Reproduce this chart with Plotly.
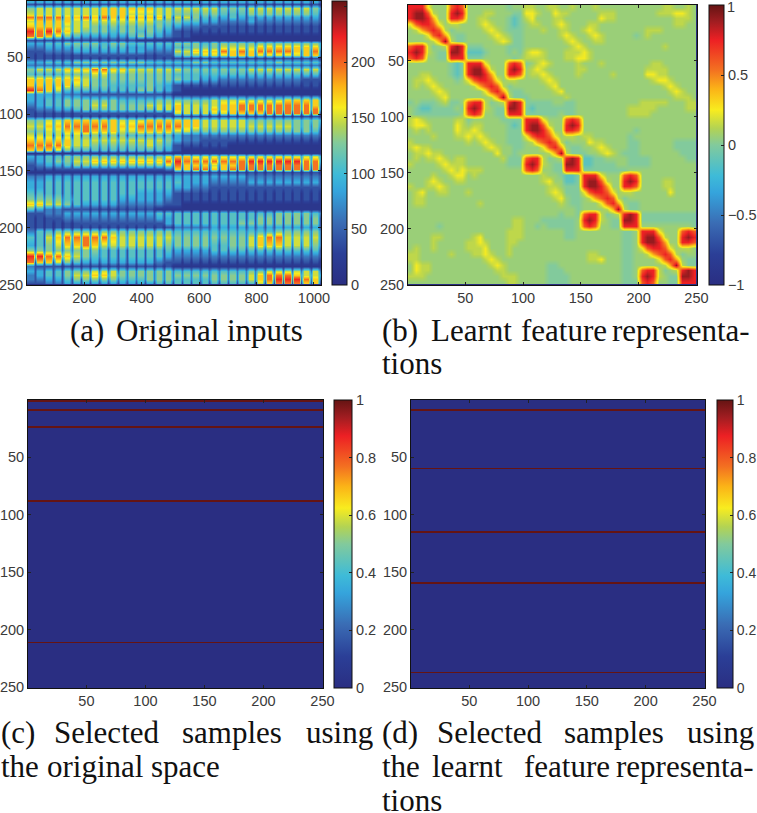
import numpy as np
import plotly.graph_objects as go

W, H = 757, 813

# ---- Panel (a): rows of alternating peak / valley readings, 32 blocks across
a_levels = [15, 40, 65, 90, 110, 130, 150, 170, 195, 220, 245]
a_row_edges = [0,2,4,9,14,16,20,25,29,33,36,39,43,46,50,52,56,58,63,67,72,77,80,85,90,94,98,100,103,108,113,117,120,125,130,134,135,139,143,147,150,152,157,162,167,172,177,182,185,189,194,198,201,205,212,218,222,228,232,236,240,244,247,250]
a_rows = [
"3131313131313131 3131313131313131 3131313131313131 3131313131313131",
"1010101010101010 1010101010101010 1010101010101010 1010101010101010",
"5362636363636363 7373737373736363 6363636362525251 6262626262626252",
"6363636363636363 7373736363636363 5352525252414141 5252525252525241",
"8281828172718171 8171717171717161 6161514141314131 3131313131313131",
"6372737373636363 6363636363635352 5242413131212121 3121212121212121",
"7474747363636352 5252525252525241 3121211111101010 1010101010101010",
"9484948473635352 5242525241524131 1010101010101010 1010101010101010",
"8383726151413131 3131314151413121 1010000000000000 0000000000000000",
"1010101010101010 1010101000000000 0000000000000000 0000000000000000",
"3131414152525252 4252524241414141 5252524252535353 5253535353535353",
"2121313131414141 4141413131313131 4142525252636363 6373737373737373",
"1111212121313131 3131313131212121 6262727272827282 7282828282727282",
"1010101010101111 1111111110101111 4152526262627272 7262626262627272",
"1010101010101010 1010101010101010 1010101010101010 1010101010101010",
"3131414141525252 5252525252424242 4242525242424242 4242425242424242",
"2121212121212121 2121212121212121 2121212121212121 2121212121212121",
"5262626373737383 8373736363626262 6252525252525252 6262626262626262",
"4141414252525262 6252525252525252 4242424242414141 4141414141414141",
"7474747373736252 5252525252525252 5242413131212121 2121212121211111",
"7272727171626152 5242424242524231 1010101010101010 1010101010101010",
"9181716141414141 4141414151514131 1000000000000000 0000000000000000",
"3132313121211111 1111111111111010 0000000000000000 0000000000000000",
"3131414152525252 5252424242425252 5353535363636363 6363636373737373",
"2131414152525262 6252525252626262 7262636363737383 8383838383838373",
"1121213131415152 5252525251516161 7262626373737383 8383838383838383",
"1010101010111111 1111111111111111 6161616161617171 7171818181818181",
"1010101010101010 1010101010101010 1010101010101010 1010101010101010",
"5353636373737373 7373636363737373 7373736363636363 5353535353535353",
"6363737383838383 8373737383838383 8373736363636363 6363636363535252",
"5252636373738373 7373636373737373 6262525252525252 5252525252525241",
"6161616161615151 5151514141414141 3121212121212121 2121212121212121",
"7373737373636363 6363636262626252 3121211111111010 1010101010101010",
"8484848473636352 5252525252625241 1010101010100000 0000000000000000",
"7271716151414141 4141414141414131 1000000000000000 0000000000000000",
"0000000000000000 0000000000000000 0000000000000000 0000000000000000",
"3131414152525252 5252525252525363 7373636363636363 6363636363636363",
"2131415252636373 7373737373737383 9383838383838383 9393939393938383",
"1121313141515252 5252525252525262 8272727262727282 8282828282828282",
"1010101111111111 1111111111111121 7171818171718181 8181818181818181",
"0000000000000000 0000000000000000 1010101010101010 1010101010101010",
"2121313131313131 3131313131313131 3131313131313131 2121212121212121",
"3131414141414141 4141414141414141 4131313121212121 3131313131313131",
"3131414141414141 4141414141414141 3131212111111111 1111111111111111",
"4141414141414141 4141414131313131 1010101010101010 1010101010101010",
"5252525242414141 4141313131313121 1010101010101010 1010101010101010",
"7372626251413131 3131212121212111 1000000000000000 0000000000000000",
"4131212111111010 1010101010100000 0000000000000000 0000000000000000",
"1111212131313131 3131313131314141 4141414141414141 4141415252525242",
"1010111121212121 2121212121213131 4141414141414141 4151515151515151",
"1010101010111111 1111111111111131 4141414141414151 5151515151515151",
"1010101010101010 1010101010101010 2121212131313131 3131313131313131",
"2141415252525252 5252525252525252 4242424242424242 4242425252525252",
"4141627383838383 8373636363636363 5252525252525252 6273838363636262",
"3141526272738373 6363636262626252 5252525241425252 6273737362626252",
"5252525252525252 4141414141414141 3131313141414141 4141414141414141",
"9494848473625242 4141414141414131 2121212121212121 2121212121212121",
"8171716151413131 3131313131312111 1010101010101010 1010101010101010",
"2111111010101010 1010101010101010 0000000000000000 0000000000000000",
"3131414152525262 6262525252525252 4242424242424242 5252626262626262",
"2131414152636373 7363525252525252 5252525252525252 6272838383736363",
"2121313141515252 5252424242525252 4242424252525252 6272829292928272",
"1111212131313131 3131313131314141 4141414141414141 4161718181817171",
]

# ---- Panel (b): upper triangle of the similarity matrix, 5-sample cells
b_levels = [-0.3, -0.12, 0.0, 0.06, 0.14, 0.24, 0.42, 0.6, 0.75, 0.9]
b_upper = [
"8885333787 3333333233 4433443343 3343333333 3333443343",
"997433898 3334433322 5543354433 3334443333 3334445543",
"98633887 3344333212 4533344333 3335443333 3333334443",
"8753443 3345433212 3443345433 3443333333 3333334433",
"874233 3334543222 3334334433 4543333333 3444333333",
"86322 3333454322 3333334543 3454333332 3433333333",
"9422 3333345422 3333333454 3344333333 3333333333",
"898 2223333222 3333333345 4333333333 3333433333",
"98 1112333232 4554333444 5433333333 3333333333",
"8 2223333323 4444333445 5433333333 3333333333",
"8885333787 2345433334 3334333333 3344333333",
"997433898 3454333334 4333333333 3444433333",
"98633887 3445433334 3333343333 3554433333",
"8753443 3334543333 3333333333 3345543333",
"874233 3333453333 3333333333 3333454333",
"86322 3333345333 3333333333 3333345433",
"9422 2333333433 3333333333 3333334443",
"898 2222233223 3333333333 4444433344",
"98 2122222223 3333333344 4443333344",
"8 2222223223 3333333344 4433333333",
"8885333787 3333333333 3333333333",
"997433898 3333333333 3333333333",
"98633887 3333333332 3333333333",
"8753443 4433333323 3333333333",
"874233 3544333322 3333332222",
"86322 3345433322 3333332222",
"9422 2334543222 3333333222",
"898 1122333322 2233333322",
"98 1122223322 2233333333",
"8 2222222233 3333333333",
"8885333787 3333333333",
"997433898 3333443333",
"98633887 3333443333",
"8753443 3333353333",
"874233 3333333333",
"86322 3333333333",
"9422 3333333333",
"898 2222222222",
"98 2222222222",
"8 3333333332",
"8885333787",
"997433898",
"98633887",
"8753443",
"874233",
"86322",
"9422",
"898",
"98",
"8",
]

# ---- Panels (c), (d): selected sample rows
c_selected = [1, 9, 24, 88, 211]
d_selected = [9, 60, 115, 159, 237]

a_ticks_x = [200, 400, 600, 800, 1000]
sq_ticks = [50, 100, 150, 200, 250]
a_bar_ticks = [0, 50, 100, 150, 200, 250]
b_bar_ticks = [-1, -0.5, 0, 0.5]
c_bar_ticks = [0, 0.2, 0.4, 0.6, 0.8, 1]

jet = [[0, "#2a2e82"], [.11, "#2b3f97"], [.22, "#3a6cb4"], [.33, "#35a4dc"], [.39, "#3ebbd8"],
       [.5, "#82ca9c"], [.56, "#b3d353"], [.625, "#f8ec1f"], [.7, "#fbb317"], [.77, "#f36f21"],
       [.875, "#ed2024"], [.94, "#a11d21"], [1, "#651413"]]

def dig(ch):
    return 10 if ch == "a" else int(ch)
a_read = np.array([[a_levels[dig(c)] for c in r.replace(" ", "")] for r in a_rows], float)
# each block drawn as a plateau of three peak samples and one valley sample
z_a = np.zeros((a_read.shape[0], a_read.shape[1] * 2))
for b in range(a_read.shape[1] // 2):
    z_a[:, 4 * b:4 * b + 3] = a_read[:, [2 * b]]
    z_a[:, 4 * b + 3] = a_read[:, 2 * b + 1]
a_x = [4 + 8 * k for k in range(z_a.shape[1])]
a_y = [(p + q) / 2 for p, q in zip(a_row_edges[:-1], a_row_edges[1:])]

z_b = np.zeros((50, 50))
for i, r in enumerate(b_upper):
    for k, c in enumerate(r.replace(" ", "")):
        z_b[i, i + k] = z_b[i + k, i] = b_levels[int(c)]
b_xy = [2.5 + 5 * i for i in range(50)]

def selection(rows):
    edges, z = [0.5], []
    for r in rows:
        edges += [max(r - 0.8, 0.6), r + 0.8]
        z += [[0], [1]]
    edges.append(250.5)
    z.append([0])
    return z, edges

fig = go.Figure()
FONT = dict(family="Liberation Sans, Arial, sans-serif", size=14.5, color="#3a3a3a")
FONT_SMALL = dict(FONT, size=14)

panels = [
 dict(box=(27, 321, 1, 285), bar=(332, 347), xr=[0.5, 1024.5], xt=a_ticks_x),
 dict(box=(408, 697, 5, 285), bar=(709, 724), xr=[0.5, 250.5], xt=sq_ticks),
 dict(box=(28, 323, 400, 688), bar=(334, 352), xr=[0.5, 250.5], xt=sq_ticks),
 dict(box=(411, 705, 400, 688), bar=(717, 733), xr=[0.5, 250.5], xt=sq_ticks),
]

def cb(p, ticks, font=FONT):
    x0, x1, y0, y1 = p["box"]
    bx0, bx1 = p["bar"]
    return dict(x=bx0 / W, xanchor="left", xpad=0, ypad=0,
                y=1 - y1 / H, yanchor="bottom", len=(y1 - y0) / H, lenmode="fraction",
                thickness=bx1 - bx0, thicknessmode="pixels",
                tickvals=ticks, ticks="inside", ticklen=3, tickcolor="#222",
                outlinewidth=1, outlinecolor="#111", tickfont=font)

fig.add_trace(go.Heatmap(z=z_a, x=a_x, y=a_y, zmin=0, zmax=255, colorscale=jet, zsmooth="best",
                         colorbar=cb(panels[0], a_bar_ticks), xaxis="x", yaxis="y"))
fig.add_trace(go.Heatmap(z=z_b, x=b_xy, y=b_xy, zmin=-1, zmax=1, colorscale=jet, zsmooth="best",
                         colorbar=cb(panels[1], b_bar_ticks), xaxis="x2", yaxis="y2"))
zc, yc = selection(c_selected)
zd, yd = selection(d_selected)
fig.add_trace(go.Heatmap(z=zc, x=[0.5, 250.5], y=yc, zmin=0, zmax=1, colorscale=jet,
                         colorbar=cb(panels[2], c_bar_ticks), xaxis="x3", yaxis="y3"))
fig.add_trace(go.Heatmap(z=zd, x=[0.5, 250.5], y=yd, zmin=0, zmax=1, colorscale=jet,
                         colorbar=cb(panels[3], c_bar_ticks, FONT_SMALL), xaxis="x4", yaxis="y4"))

layout = dict(width=W, height=H, margin=dict(l=0, r=0, t=0, b=0, autoexpand=False), paper_bgcolor="white",
              plot_bgcolor="#2a2e82", showlegend=False, font=FONT)
for i, p in enumerate(panels):
    s = "" if i == 0 else str(i + 1)
    x0, x1, y0, y1 = p["box"]
    common = dict(showgrid=False, zeroline=False, showline=True, linecolor="#111", linewidth=1,
                  mirror="ticks", ticks="inside", ticklen=3, tickcolor="#222", tickfont=FONT)
    layout["xaxis" + s] = dict(domain=[x0 / W, x1 / W], range=p["xr"], tickvals=p["xt"],
                               anchor="y" + s, **common)
    layout["yaxis" + s] = dict(domain=[1 - y1 / H, 1 - y0 / H], range=[250.5, 0.5], tickvals=sq_ticks,
                               anchor="x" + s, **common)

caption_words = [
 (68, 330, "(a)"), (114, 330, "Original"), (225, 330, "inputs"),
 (380, 330, "(b)"), (429, 330, "Learnt"), (519, 330, "feature"), (610, 330, "representa-"),
 (380, 364, "tions"),
 (-1, 732, "(c)"), (52, 732, "Selected"), (180, 732, "samples"), (304, 732, "using"),
 (-1, 766, "the"), (45, 766, "original"), (149, 766, "space"),
 (380, 732, "(d)"), (435, 732, "Selected"), (562, 732, "samples"), (685, 732, "using"),
 (380, 766, "the"), (430, 766, "learnt"), (522, 766, "feature"), (614, 766, "representa-"),
 (380, 800, "tions"),
]
annotations = [
    dict(x=px / W, y=1 - py / H, xref="paper", yref="paper", text=t, showarrow=False,
         xanchor="left", yanchor="middle",
         font=dict(family="Liberation Serif, Times New Roman, serif", size=31, color="#111"))
    for px, py, t in caption_words
]
# top label of the (b) colour bar sits right at the page edge
annotations.append(dict(x=725 / W, y=1 - 7 / H, xref="paper", yref="paper", text="1", showarrow=False,
                        xanchor="left", yanchor="middle", font=FONT))
layout["annotations"] = annotations
fig.update_layout(**layout)
fig.write_html("out.html", config={"displayModeBar": False},
               post_script="document.body.style.margin='0';document.body.style.overflow='hidden';")
